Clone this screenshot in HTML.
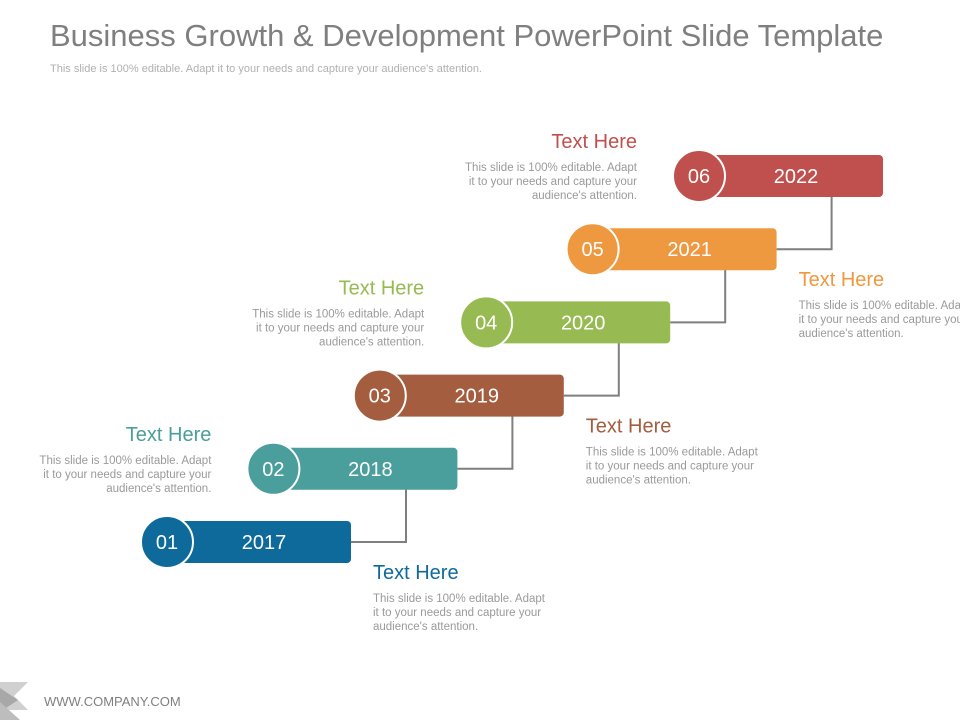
<!DOCTYPE html>
<html><head><meta charset="utf-8">
<style>
html,body{margin:0;padding:0;background:#fff;}
body{width:960px;height:720px;overflow:hidden;position:relative;font-family:"Liberation Sans",Arial,sans-serif;}
.title{position:absolute;left:50px;top:18px;font-size:31px;color:#7f7f7f;white-space:nowrap;}
.sub{position:absolute;left:50px;top:63px;font-size:11px;color:#b0b0b0;white-space:nowrap;}
.foot{position:absolute;left:44px;top:694px;font-size:13px;color:#7f7f7f;}
</style></head>
<body>
<div class="title">Business Growth &amp; Development PowerPoint Slide Template</div>
<div class="sub">This slide is 100% editable. Adapt it to your needs and capture your audience's attention.</div>
<svg width="60" height="40" style="position:absolute;left:0;top:682px">
<polygon points="0,0 28,0 14,14 28,28 0,28" fill="#d0d0d0"/>
<polygon points="0,6 18,18 0,30" fill="#a8a8a8"/>
<polygon points="0,20 20,38 0,38" fill="#bdbdbd"/>
</svg>
<div class="foot">WWW.COMPANY.COM</div>
<svg id="chart" width="960" height="720" style="position:absolute;left:0;top:0"></svg>
<script>
const steps=["01","02","03","04","05","06"];
const years=["2017","2018","2019","2020","2021","2022"];
const colors=["#0e6a9a","#4a9e9b","#a45d3e","#97bb52","#ee9840","#c0504d"];
const NS="http://www.w3.org/2000/svg";
const svg=document.getElementById("chart");
function cx(i){return 167+106.4*i;}
function cy(i){return 542-73.2*i;}
function mk(t,a,p){const e=document.createElementNS(NS,t);for(const k in a)e.setAttribute(k,a[k]);(p||svg).appendChild(e);return e;}
const body=["This slide is 100% editable. Adapt","it to your needs and capture your","audience's attention."];
// connectors
for(let i=0;i<steps.length-1;i++){
  const r=cx(i)+184, x=r+55;
  const l=mk("polyline",{points:`${r},${cy(i)} ${x},${cy(i)} ${x},${cy(i+1)+20}`,fill:"none",stroke:"#7f7f7f","stroke-width":2});
  
  
}
for(let i=0;i<steps.length;i++){
  const g=mk("g",{});
  
  
  const x=cx(i),y=cy(i);
  mk("rect",{x:x,y:y-21,width:184,height:42,rx:4,fill:colors[i]},g);
  mk("circle",{cx:x,cy:y,r:26,fill:colors[i],stroke:"#fff","stroke-width":2},g);
  const t1=mk("text",{x:x,y:y+7,"text-anchor":"middle","font-size":20,fill:"#fff","font-family":"Liberation Sans, sans-serif"},g);
  t1.textContent=steps[i];
  
  
  const t2=mk("text",{x:x+97,y:y+7,"text-anchor":"middle","font-size":20,fill:"#fff","font-family":"Liberation Sans, sans-serif"},g);
  t2.textContent=years[i];
  
  
  // text block
  let tx,ty,anchor;
  if(i%2===0){tx=x+206;ty=y+37;anchor="start";}
  else{tx=x-62;ty=y-28;anchor="end";}
  const h=mk("text",{x:tx,y:ty,"text-anchor":anchor,"font-size":20,fill:colors[i],"font-family":"Liberation Sans, sans-serif"},g);
  h.textContent="Text Here";
  
  
  body.forEach((s,k)=>{
    const b=mk("text",{x:tx,y:ty+23+k*14,"text-anchor":anchor,"font-size":11.5,fill:"#9a9a9a","font-family":"Liberation Sans, sans-serif"},g);
    b.textContent=s;
    
    
  });
}
</script>
</body></html>
